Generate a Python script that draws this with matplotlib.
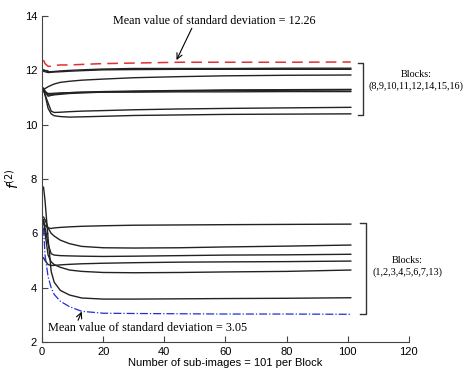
import matplotlib
matplotlib.use('Agg')
import matplotlib.pyplot as plt

plt.rcParams['font.family'] = ['Liberation Sans', 'DejaVu Sans']

# sample positions (number of sub-images)
xs = [0.5, 1, 2, 3, 4, 6, 9, 13, 20, 30, 45, 60, 80, 101]

# blocks 8,9,10,11,12,14,15,16
upper_mean = [12.38, 12.25, 12.15, 12.15, 12.18, 12.2, 12.2, 12.22, 12.25, 12.27, 12.3, 12.3, 12.3, 12.31]
upper_blocks = [
    [12.02, 12.0, 11.95, 11.95, 11.96, 11.98, 12.0, 12.02, 12.05, 12.07, 12.07, 12.07, 12.08, 12.08],
    [11.97, 11.95, 11.92, 11.93, 11.94, 11.95, 11.97, 11.99, 12.02, 12.03, 12.04, 12.04, 12.04, 12.04],
    [11.3, 11.33, 11.4, 11.45, 11.5, 11.56, 11.6, 11.64, 11.68, 11.73, 11.77, 11.8, 11.82, 11.83],
    [11.32, 11.25, 11.1, 11.1, 11.12, 11.15, 11.18, 11.2, 11.22, 11.24, 11.26, 11.28, 11.29, 11.3],
    [11.28, 11.2, 11.05, 11.08, 11.1, 11.12, 11.15, 11.17, 11.2, 11.22, 11.24, 11.26, 11.27, 11.28],
    [11.22, 11.2, 11.15, 11.15, 11.16, 11.17, 11.18, 11.19, 11.2, 11.2, 11.21, 11.21, 11.22, 11.22],
    [11.25, 11.1, 10.8, 10.5, 10.45, 10.46, 10.48, 10.5, 10.52, 10.55, 10.58, 10.6, 10.62, 10.64],
    [11.35, 11.1, 10.6, 10.4, 10.33, 10.3, 10.28, 10.29, 10.31, 10.34, 10.36, 10.38, 10.39, 10.4],
]

# blocks 1,2,3,4,5,6,7,13
lower_mean = [6.2, 5.2, 4.4, 4.0, 3.75, 3.5, 3.3, 3.13, 3.06, 3.05, 3.04, 3.03, 3.03, 3.02]
lower_blocks = [
    [6.35, 6.3, 6.2, 6.18, 6.2, 6.22, 6.24, 6.26, 6.28, 6.3, 6.31, 6.32, 6.33, 6.34],
    [6.6, 6.5, 6.2, 6.0, 5.9, 5.75, 5.62, 5.52, 5.47, 5.46, 5.47, 5.5, 5.53, 5.57],
    [6.5, 6.2, 5.6, 5.25, 5.2, 5.18, 5.17, 5.16, 5.15, 5.16, 5.18, 5.2, 5.21, 5.23],
    [5.1, 5.0, 4.85, 4.82, 4.82, 4.84, 4.86, 4.88, 4.9, 4.92, 4.94, 4.95, 4.96, 4.98],
    [6.5, 6.0, 5.2, 4.95, 4.85, 4.75, 4.65, 4.6, 4.56, 4.55, 4.56, 4.58, 4.6, 4.65],
    [7.7, 7.2, 5.8, 4.6, 4.2, 3.9, 3.73, 3.62, 3.58, 3.58, 3.59, 3.6, 3.61, 3.63],
]

fig = plt.figure(figsize=(4.74, 3.79), dpi=100)
ax = fig.add_axes([0.0886, 0.0976, 0.774, 0.860])

for ys in upper_blocks + lower_blocks:
    ax.plot(xs, ys, color='#222222', lw=1.0)

ax.plot(xs, upper_mean, color='#e03030', lw=1.1, dashes=(7, 4))
ax.plot(xs, lower_mean, color='#2030d0', lw=0.9, linestyle='-.')

ax.set_xlim(0, 120)
ax.set_ylim(2, 14)
ax.set_xticks(range(0, 121, 20))
ax.set_yticks(range(2, 15, 2))
ax.spines['top'].set_visible(False)
ax.spines['right'].set_visible(False)
for s in ['left', 'bottom']:
    ax.spines[s].set_color('#444444')
ax.tick_params(direction='in', labelsize=8, length=4, color='#444444')

ax.set_xlabel('Number of sub-images = 101 per Block', fontsize=8, labelpad=1)
ax.set_ylabel(r'$f^{(2)}$', fontsize=10, labelpad=2)

serif = 'Liberation Serif'
ax.text(56.4, 13.6, 'Mean value of standard deviation = 12.26', ha='center', va='bottom',
        fontsize=8.7, family=serif, clip_on=False)
ax.annotate('', xy=(44, 12.38), xytext=(49, 13.55),
            arrowprops=dict(arrowstyle='->', color='black', lw=0.8, shrinkA=0, shrinkB=0))
ax.text(2, 2.53, 'Mean value of standard deviation = 3.05', ha='left', va='center',
        fontsize=8.8, family=serif)
ax.annotate('', xy=(13, 3.12), xytext=(11.8, 2.8),
            arrowprops=dict(arrowstyle='->', color='black', lw=0.8, shrinkA=0, shrinkB=0))

# brackets
ax.plot([103.3, 105, 105, 103.3], [12.26, 12.26, 10.36, 10.36], color='#333333', lw=1.0, clip_on=False)
ax.plot([104, 105.9, 105.9, 104], [6.37, 6.37, 3.03, 3.03], color='#333333', lw=1.0, clip_on=False)
ax.text(122.4, 11.62, 'Blocks:\n(8,9,10,11,12,14,15,16)', ha='center', va='center',
        fontsize=7.3, family=serif, linespacing=1.3, clip_on=False)
ax.text(119.6, 4.77, 'Blocks:\n(1,2,3,4,5,6,7,13)', ha='center', va='center',
        fontsize=7.3, family=serif, linespacing=1.3, clip_on=False)

fig.savefig('out.png', dpi=100)
